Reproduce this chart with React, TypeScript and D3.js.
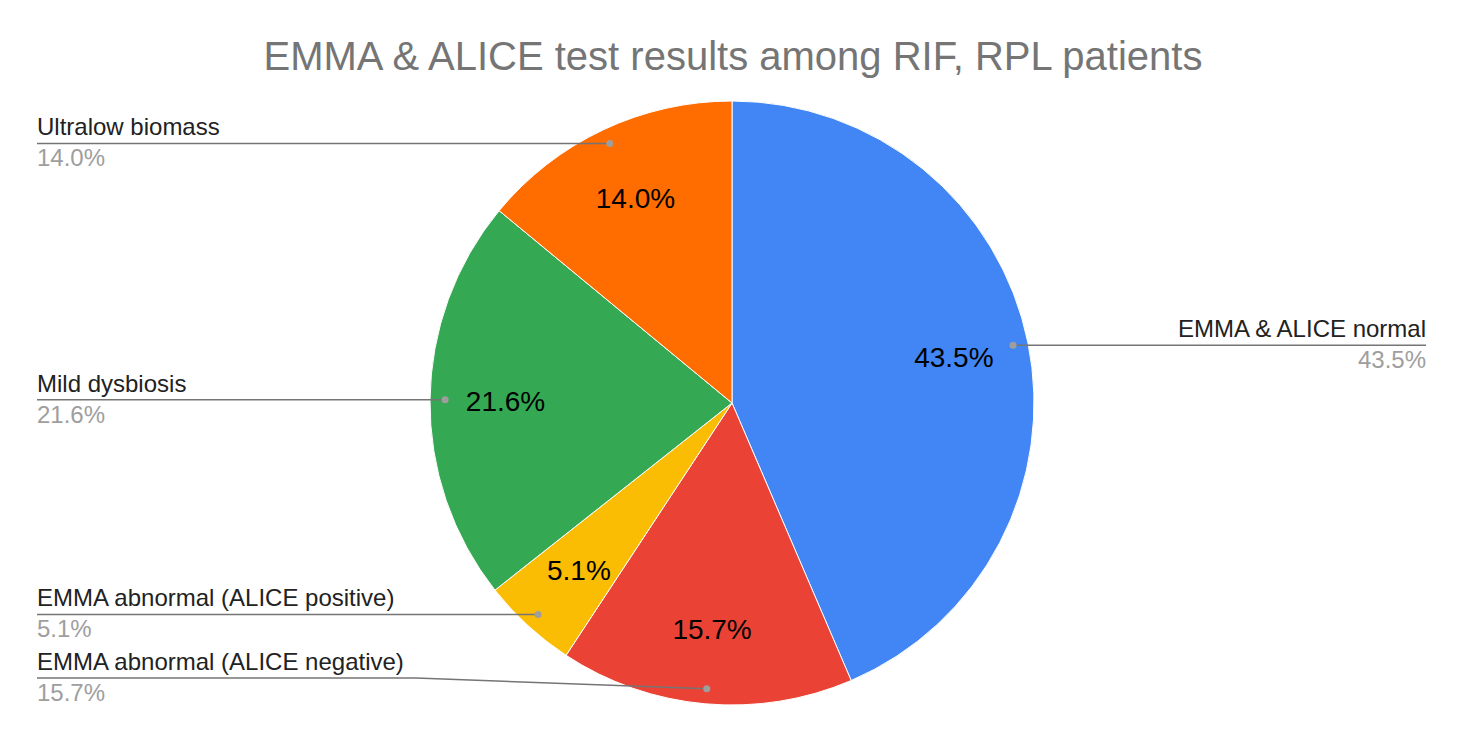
import React, { useRef, useEffect } from 'react';
import * as d3 from 'd3';

// chart data
const categories = [
  'EMMA & ALICE normal',
  'EMMA abnormal (ALICE negative)',
  'EMMA abnormal (ALICE positive)',
  'Mild dysbiosis',
  'Ultralow biomass',
];
const shares = [43.5, 15.7, 5.1, 21.6, 14.0];
const colors = ['#4285f4', '#ea4335', '#fbbc04', '#34a853', '#ff6d01'];
const title = 'EMMA & ALICE test results among RIF, RPL patients';

const W = 1464;
const H = 742;

interface Row {
  name: string;
  value: number;
  color: string;
}

const PieChart = () => {
  const ref = useRef<SVGSVGElement>(null);

  useEffect(() => {
    if (!ref.current) return;
    const svg = d3.select(ref.current);
    svg.selectAll('*').remove();

    const data: Row[] = categories.map((c, i) => ({ name: c, value: shares[i], color: colors[i] }));
    const cx = 732;
    const cy = 403;
    const R = 302;
    const font = 'Arial, "Liberation Sans", sans-serif';

    svg
      .append('text')
      .attr('x', cx + 1)
      .attr('y', 70)
      .attr('text-anchor', 'middle')
      .attr('font-family', font)
      .attr('font-size', 40)
      .attr('fill', '#757575')
      .text(title);

    const pie = d3.pie<Row>().sort(null).value((d) => d.value);
    const arcs = pie(data);
    const arc = d3.arc<d3.PieArcDatum<Row>>().innerRadius(0).outerRadius(R);

    const g = svg.append('g').attr('transform', `translate(${cx},${cy})`);

    g.selectAll('path.slice')
      .data(arcs)
      .enter()
      .append('path')
      .attr('class', 'slice')
      .attr('d', arc)
      .attr('fill', (d) => d.data.color)
      .attr('stroke', '#fff')
      .attr('stroke-width', 1);

    const inner = d3.arc<d3.PieArcDatum<Row>>().innerRadius(R * 0.75).outerRadius(R * 0.75);
    g.selectAll('text.inner')
      .data(arcs)
      .enter()
      .append('text')
      .attr('class', 'inner')
      .attr('transform', (d) => `translate(${inner.centroid(d)})`)
      .attr('text-anchor', 'middle')
      .attr('dy', '0.36em')
      .attr('font-family', font)
      .attr('font-size', 28)
      .attr('fill', '#000')
      .text((d) => `${d.data.value.toFixed(1)}%`);

    // outer labels with leader lines
    const anchorArc = d3.arc<d3.PieArcDatum<Row>>().innerRadius(R * 0.95).outerRadius(R * 0.95);
    const bottomLimit = H - 64;
    const lineColor = '#757575';

    arcs.forEach((d) => {
      const [ax, ay] = anchorArc.centroid(d);
      const px = cx + ax;
      const py = cy + ay;
      const mid = (d.startAngle + d.endAngle) / 2;
      const right = mid < Math.PI;
      const ly = Math.min(py, bottomLimit);
      const endX = right ? 1426 : 37;
      const bendX = right ? px + 30 : Math.min(px, 416);

      const pts: [number, number][] = [
        [px, py],
        [bendX, ly],
        [endX, ly],
      ];
      svg
        .append('path')
        .attr('d', d3.line()(pts))
        .attr('fill', 'none')
        .attr('stroke', lineColor)
        .attr('stroke-width', 1.5);
      svg
        .append('circle')
        .attr('cx', px)
        .attr('cy', py)
        .attr('r', 3.5)
        .attr('fill', '#9e9e9e');

      const anchor = right ? 'end' : 'start';
      svg
        .append('text')
        .attr('x', endX)
        .attr('y', ly - 8)
        .attr('text-anchor', anchor)
        .attr('font-family', font)
        .attr('font-size', 24)
        .attr('fill', '#222')
        .text(d.data.name);
      svg
        .append('text')
        .attr('x', endX)
        .attr('y', ly + 23)
        .attr('text-anchor', anchor)
        .attr('font-family', font)
        .attr('font-size', 24)
        .attr('fill', '#9e9e9e')
        .text(`${d.data.value.toFixed(1)}%`);
    });
  }, []);

  return <svg ref={ref} width={W} height={H} style={{ display: 'block', background: '#fff' }} />;
};

export default function App() {
  return (
    <>
      <style>{'body{margin:0;}'}</style>
      <PieChart />
    </>
  );
}
